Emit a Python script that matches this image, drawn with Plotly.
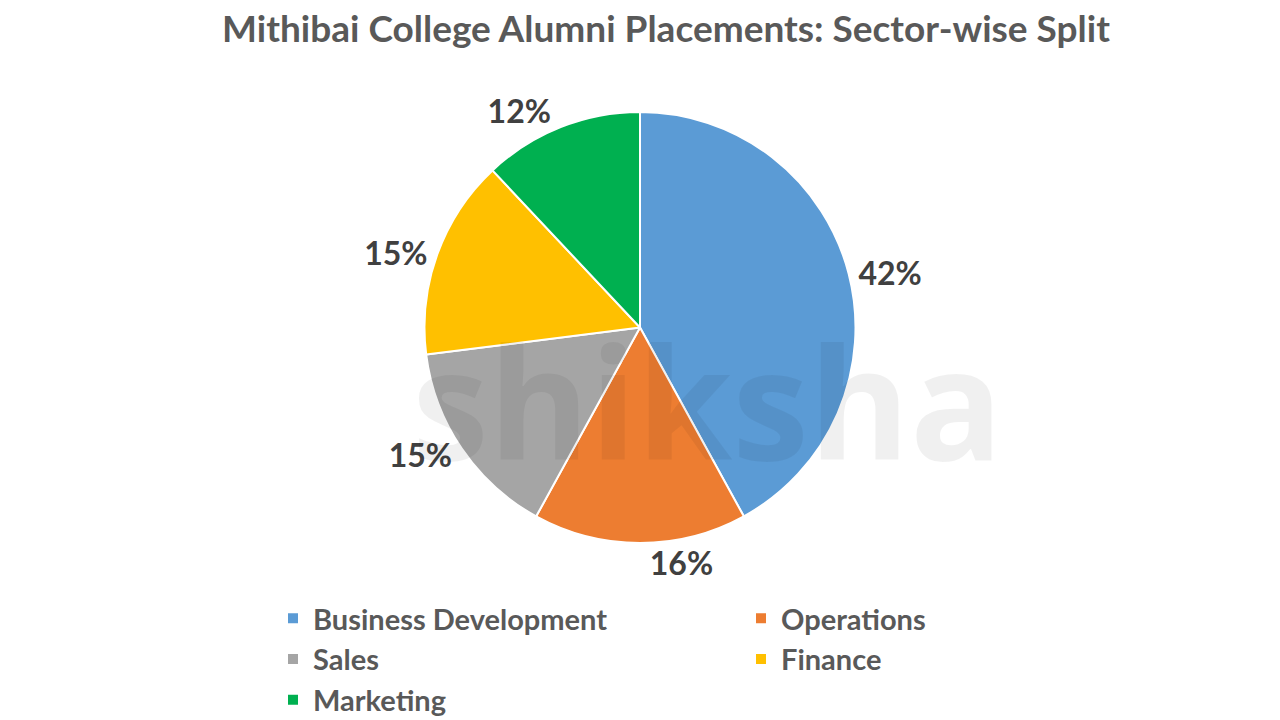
import plotly.graph_objects as go

sectors = ["Business Development", "Operations", "Sales", "Finance", "Marketing"]
shares = [42, 16, 15, 15, 12]
colors = ["#5B9BD5", "#ED7D31", "#A5A5A5", "#FFC000", "#00B050"]
title_text = "Mithibai College Alumni Placements: Sector-wise Split"

W, H = 1280, 720

fig = go.Figure()
fig.add_trace(go.Pie(
    labels=sectors,
    values=shares,
    sort=False,
    direction="clockwise",
    rotation=0,
    marker=dict(colors=colors, line=dict(color="white", width=2)),
    texttemplate="%{value}%",
    textposition="outside",
    textfont=dict(family="Lato", size=32, color="#404040", weight="bold"),
    domain=dict(x=[0.15 - 8 / W, 0.85 - 8 / W], y=[1 - 535 / H, 1 - 104 / H]),
    hoverinfo="label+percent",
))

fig.add_annotation(
    text="<b>shiksha</b>", x=699 / W, y=1 - 392 / H, xref="paper", yref="paper",
    showarrow=False, font=dict(family="Open Sans", size=154, color="rgba(0,0,0,0.06)"),
)

fig.update_layout(
    width=W, height=H,
    paper_bgcolor="white", plot_bgcolor="white",
    margin=dict(l=0, r=0, t=0, b=0, autoexpand=False),
    title=dict(text="<b>" + title_text + "</b>", x=658 / W, xanchor="center", y=1 - 8 / H, yanchor="top",
               yref="container", font=dict(family="Lato", size=37, color="#595959")),
    legend=dict(
        orientation="h", x=265 / W, y=1 - 585 / H, xanchor="left", yanchor="top",
        entrywidth=423, entrywidthmode="pixels",
        font=dict(family="Lato", size=29, color="#595959", weight="bold"),
        traceorder="normal", itemwidth=30,
    ),
    showlegend=True,
)

fig.write_html("out.html")
